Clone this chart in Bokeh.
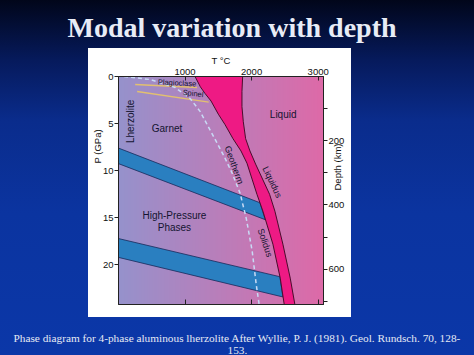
import numpy as np
from bokeh.plotting import figure
from bokeh.models import Range1d, LinearAxis, FixedTicker, Title
from bokeh.core.properties import value
from bokeh.embed import file_html
from bokeh.resources import INLINE

# ---------------- data ----------------
title_text = "Modal variation with depth"
caption_line1 = "Phase diagram for 4-phase aluminous lherzolite After Wyllie, P. J. (1981). Geol. Rundsch. 70, 128-"
caption_line2 = "153."

t_ticks = [1000, 2000, 3000]
p_ticks = [0, 5, 10, 15, 20]
depth_ticks = [100, 200, 300, 400, 500, 600, 700]
depth_tick_labels = {100: "", 200: "200", 300: "", 400: "400", 500: "", 600: "600", 700: ""}

solidus_T = [1150, 1230, 1300, 1390, 1500, 1600, 1720, 1840, 1930, 2080, 2170, 2320, 2430, 2490]
solidus_P = [0.0, 1.1, 1.8, 2.6, 4.0, 5.1, 6.6, 7.9, 9.2, 12.5, 14.3, 17.8, 21.4, 24.2]
liquidus_T = [1865, 1855, 1855, 1875, 1910, 1975, 2060, 2270, 2350, 2470, 2580, 2650]
liquidus_P = [0.0, 1.6, 3.2, 4.8, 6.6, 7.9, 9.3, 12.5, 14.3, 17.8, 21.4, 24.2]

geotherm_T = [83, 474, 850, 1075, 1226, 1346, 1466, 1586, 1707, 1827, 1918, 2008, 2068, 2113]
geotherm_P = [0.0, 0.32, 1.16, 2.33, 3.7, 5.29, 6.87, 8.46, 10.25, 12.4, 15.0, 18.5, 22.0, 24.2]

band1_T = [0, 2125, 2205, 0]
band1_P = [7.6, 13.4, 15.2, 9.25]
band2_T = [0, 2425, 2470, 0]
band2_P = [17.2, 21.25, 23.4, 19.2]

plag_T = [250, 1180]
plag_P = [0.85, 1.16]
spinel_T = [280, 1355]
spinel_P = [1.6, 2.72]

# field labels: text, T, P, angle (rad), size
field_labels = [
    ("Garnet", 729, 5.5, 0.0, "10px"),
    ("Liquid", 2474, 4.0, 0.0, "10px"),
    ("Lherzolite", 173, 4.76, np.pi / 2, "10px"),
    ("High-Pressure", 840, 14.8, 0.0, "10px"),
    ("Phases", 840, 16.0, 0.0, "10px"),
    ("Geotherm", 1737, 9.4, -1.22, "9px"),
    ("Liquidus", 2309, 11.2, -1.13, "9px"),
    ("Solidus", 2203, 17.65, -1.24, "9px"),
    ("Plagioclase", 880, 0.69, -0.05, "7.5px"),
    ("Spinel", 1120, 1.8, -0.12, "7.5px"),
]

# ---------------- figure ----------------
FL, FR, FT, FB = 118, 151, 75, 51
p = figure(width=474, height=355, x_range=Range1d(0, 3080), y_range=Range1d(24.2, 0),
           output_backend="svg", toolbar_location=None, title_location=None,
           x_axis_location=None, y_axis_location=None,
           min_border_left=FL, min_border_right=FR, min_border_top=FT, min_border_bottom=FB)
p.extra_y_ranges = {"depth": Range1d(710, 0)}
p.grid.visible = False
p.outline_line_color = "#222222"
p.border_fill_alpha = 0
p.background_fill_color = "#b08ac0"
p.styles = {"background": ("linear-gradient(#ffffff, #ffffff) 88px 48px / 263px 269px no-repeat, "
                           "linear-gradient(180deg, #01061a 0%, #061a5c 17%, #0a2c8c 34%, #0b34a0 60%, #0b37a8 100%)")}

# background gradient inside plot
nx = 256
img = np.zeros((2, nx), dtype=np.uint32)
v = img.view(dtype=np.uint8).reshape((2, nx, 4))
c0 = np.array([150, 146, 204]); c1 = np.array([222, 106, 168])
tt = np.linspace(0, 1, nx)
for c in range(3):
    v[:, :, c] = (c0[c] + (c1[c] - c0[c]) * tt).astype(np.uint8)
v[:, :, 3] = 255
r_img = p.image_rgba(image=[img], x=0, y=0, dw=3080, dh=24.2)
r_img.level = "underlay"

# blue bands
for bt, bp in ((band1_T, band1_P), (band2_T, band2_P)):
    p.patch(bt, bp, fill_color="#2a7fc0", line_color="#1b2a5a", line_width=0.8)

# melting interval
melt_T = solidus_T + liquidus_T[::-1]
melt_P = solidus_P + liquidus_P[::-1]
p.patch(melt_T, melt_P, fill_color="#ee1a84", line_color="#4a0c2c", line_width=1)

# yellow phase boundaries
p.line(plag_T, plag_P, line_color="#e2c070", line_width=1.5)
p.line(spinel_T, spinel_P, line_color="#e2c070", line_width=1.5)

# geotherm
p.line(geotherm_T, geotherm_P, line_color="#c8daf5", line_width=1.5, line_dash="4 3")

for txt, x, y, ang, fs in field_labels:
    p.text(x=[x], y=[y], text=[txt], angle=ang, text_align="center", text_baseline="middle",
           text_font=value("Liberation Sans"), text_font_size=fs, text_color="#141430")

# ---------------- axes ----------------
def style(ax):
    ax.major_label_text_font = "Liberation Sans"
    ax.major_label_text_font_size = "9.5px"
    ax.major_label_text_color = "#111111"
    ax.axis_line_color = "#222222"
    ax.major_tick_line_color = "#222222"
    ax.minor_tick_line_color = None
    ax.axis_label_text_font = "Liberation Sans"
    ax.axis_label_text_font_size = "9.5px"
    ax.axis_label_text_font_style = "normal"
    ax.axis_label_text_color = "#111111"

top = LinearAxis(ticker=FixedTicker(ticks=t_ticks), axis_label="T °C")
style(top); top.major_tick_in = 4; top.major_tick_out = 0; top.major_label_standoff = 2; top.axis_label_standoff = 0
p.add_layout(top, "above")

bottom = LinearAxis(ticker=FixedTicker(ticks=t_ticks), major_label_overrides={t: "" for t in t_ticks})
style(bottom); bottom.major_tick_in = 5; bottom.major_tick_out = 0
bottom.major_label_text_font_size = "0px"; bottom.major_label_standoff = 0
p.add_layout(bottom, "below")

# invisible spacer axis that pushes the caption down to the slide's footer
spacer = LinearAxis(ticker=FixedTicker(ticks=t_ticks), major_label_overrides={t: "" for t in t_ticks})
spacer.major_label_text_font_size = "0px"; spacer.major_label_standoff = 0
spacer.major_tick_in = 0; spacer.major_tick_out = 24
spacer.major_tick_line_alpha = 0; spacer.axis_line_alpha = 0; spacer.minor_tick_line_color = None
p.add_layout(spacer, "below")

left = LinearAxis(ticker=FixedTicker(ticks=p_ticks))
style(left); left.major_tick_in = 0; left.major_tick_out = 4; left.major_label_standoff = 1
p.add_layout(left, "left")

right = LinearAxis(y_range_name="depth", ticker=FixedTicker(ticks=depth_ticks),
                   major_label_overrides=depth_tick_labels, axis_label="Depth (km)")
style(right); right.major_tick_in = 0; right.major_tick_out = 4; right.major_label_standoff = 1
right.axis_label_orientation = np.pi / 2
right.axis_label_standoff = -10
p.add_layout(right, "right")

# P axis title, placed higher as on the slide
p.add_layout(Title(text="P (GPa)", align="left", offset=141, standoff=-6,
                   text_font="Liberation Sans", text_font_size="9.5px", text_font_style="normal",
                   text_color="#111111"), "left")

# slide title & caption
p.add_layout(Title(text=title_text, align="left", offset=-51, standoff=18,
                   text_font="Liberation Serif", text_font_size="28px", text_font_style="bold",
                   text_color="#e8ecf6"), "above")
p.add_layout(Title(text=caption_line1, align="left", offset=-105, standoff=2,
                   text_font="Liberation Serif", text_font_size="11.3px", text_font_style="normal",
                   text_color="#e6eaf4"), "below")
p.add_layout(Title(text=caption_line2, align="left", offset=109, standoff=0,
                   text_font="Liberation Serif", text_font_size="11.3px", text_font_style="normal",
                   text_color="#e6eaf4"), "below")

open("out.html", "w").write(file_html(p, INLINE))
